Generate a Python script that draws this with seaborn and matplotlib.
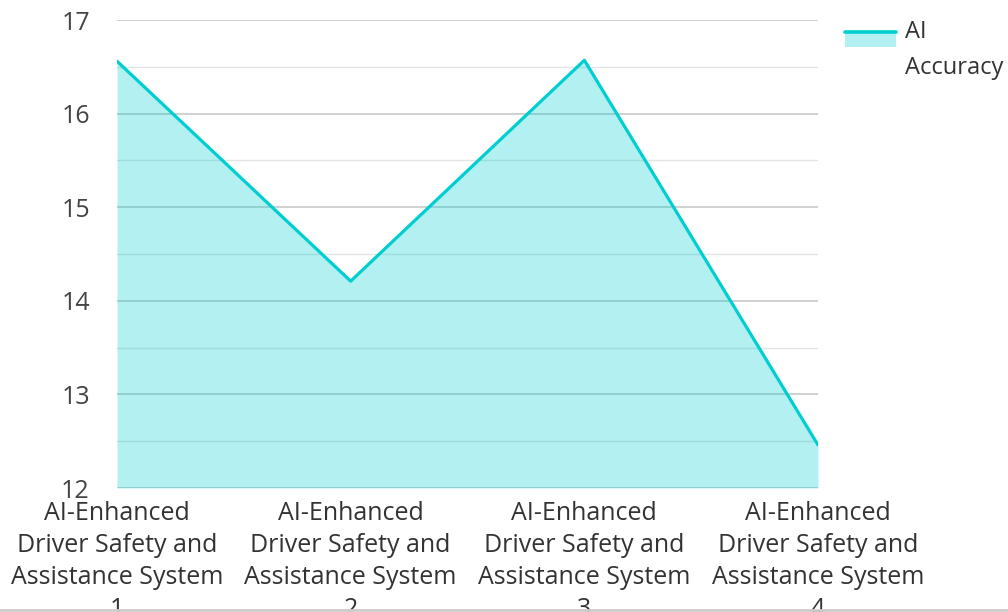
import textwrap
import numpy as np
import pandas as pd
import matplotlib
matplotlib.use("Agg")
import matplotlib.pyplot as plt
import seaborn as sns
from matplotlib.lines import Line2D
from matplotlib.patches import Rectangle

# data
systems = [f"AI-Enhanced Driver Safety and Assistance System {i}" for i in range(1, 5)]
accuracy = [16.56, 14.21, 16.57, 12.46]
series_name = "AI Accuracy"

line_color = "#00CED1"
text_color = "#333333"

sns.set_theme(style="white")
plt.rcParams["font.family"] = ["Open Sans", "DejaVu Sans"]

df = pd.DataFrame({"pos": np.arange(len(systems)), "system": systems, "accuracy": accuracy})

fig = plt.figure(figsize=(10.08, 6.12), dpi=100)
ax = fig.add_axes([117 / 1008, 1 - 488 / 612, (818 - 117) / 1008, (488 - 20) / 612])

# grid first, under the fill
ax.set_ylim(12, 17)
ax.set_xlim(df["pos"].min(), df["pos"].max())
ax.set_yticks(np.arange(12, 17.01, 1))
ax.set_yticks(np.arange(12.5, 17, 1), minor=True)
ax.grid(axis="y", which="major", color="#c8c8c8", linewidth=1.2)
ax.grid(axis="y", which="minor", color="#e4e4e4", linewidth=1.0)
ax.set_axisbelow(True)

ax.fill_between(df["pos"], 12, df["accuracy"], color=line_color, alpha=0.3, linewidth=0)
sns.lineplot(data=df, x="pos", y="accuracy", ax=ax, color=line_color, linewidth=2.3, legend=False)

ax.set_xticks(df["pos"])
ax.set_xticklabels([textwrap.fill(s, 17) for s in systems], fontsize=18, color=text_color,
                   linespacing=1.38)
ax.tick_params(axis="x", length=0, pad=9)
ax.tick_params(axis="y", length=0, pad=19.5, labelsize=18, labelcolor="#444444")
ax.set_xlabel("")
ax.set_ylabel("")
for sp in ax.spines.values():
    sp.set_visible(False)


# legend handle: light fill block with the line on its top edge, level with the first text line
class AreaHandler:
    def legend_artist(self, legend, orig_handle, fontsize, handlebox):
        x0, y0 = handlebox.xdescent, handlebox.ydescent
        w, h = handlebox.width, handlebox.height
        lift = 10
        rect = Rectangle((x0, y0 + lift), w, h, facecolor=line_color, alpha=0.3,
                         edgecolor="none", transform=handlebox.get_transform())
        ln = Line2D([x0, x0 + w], [y0 + h + lift, y0 + h + lift], color=line_color, linewidth=2.6,
                    transform=handlebox.get_transform())
        handlebox.add_artist(rect)
        handlebox.add_artist(ln)
        return rect


handle = Rectangle((0, 0), 1, 1)
leg = fig.legend([handle], [textwrap.fill(series_name, 9)], handler_map={Rectangle: AreaHandler()},
                 loc="upper left", bbox_to_anchor=(836 / 1008, 1 - 11 / 612), frameon=False,
                 fontsize=17, handlelength=2.12, handleheight=0.55, handletextpad=0.42,
                 borderaxespad=0, labelcolor=text_color, alignment="left")
for t in leg.get_texts():
    t.set_linespacing(1.65)

# thin rule at the very bottom of the canvas
fig.add_artist(Line2D([0, 1], [2.5 / 612, 2.5 / 612], transform=fig.transFigure,
                      color="#cccccc", linewidth=2))

fig.savefig("out.png", dpi=100)
